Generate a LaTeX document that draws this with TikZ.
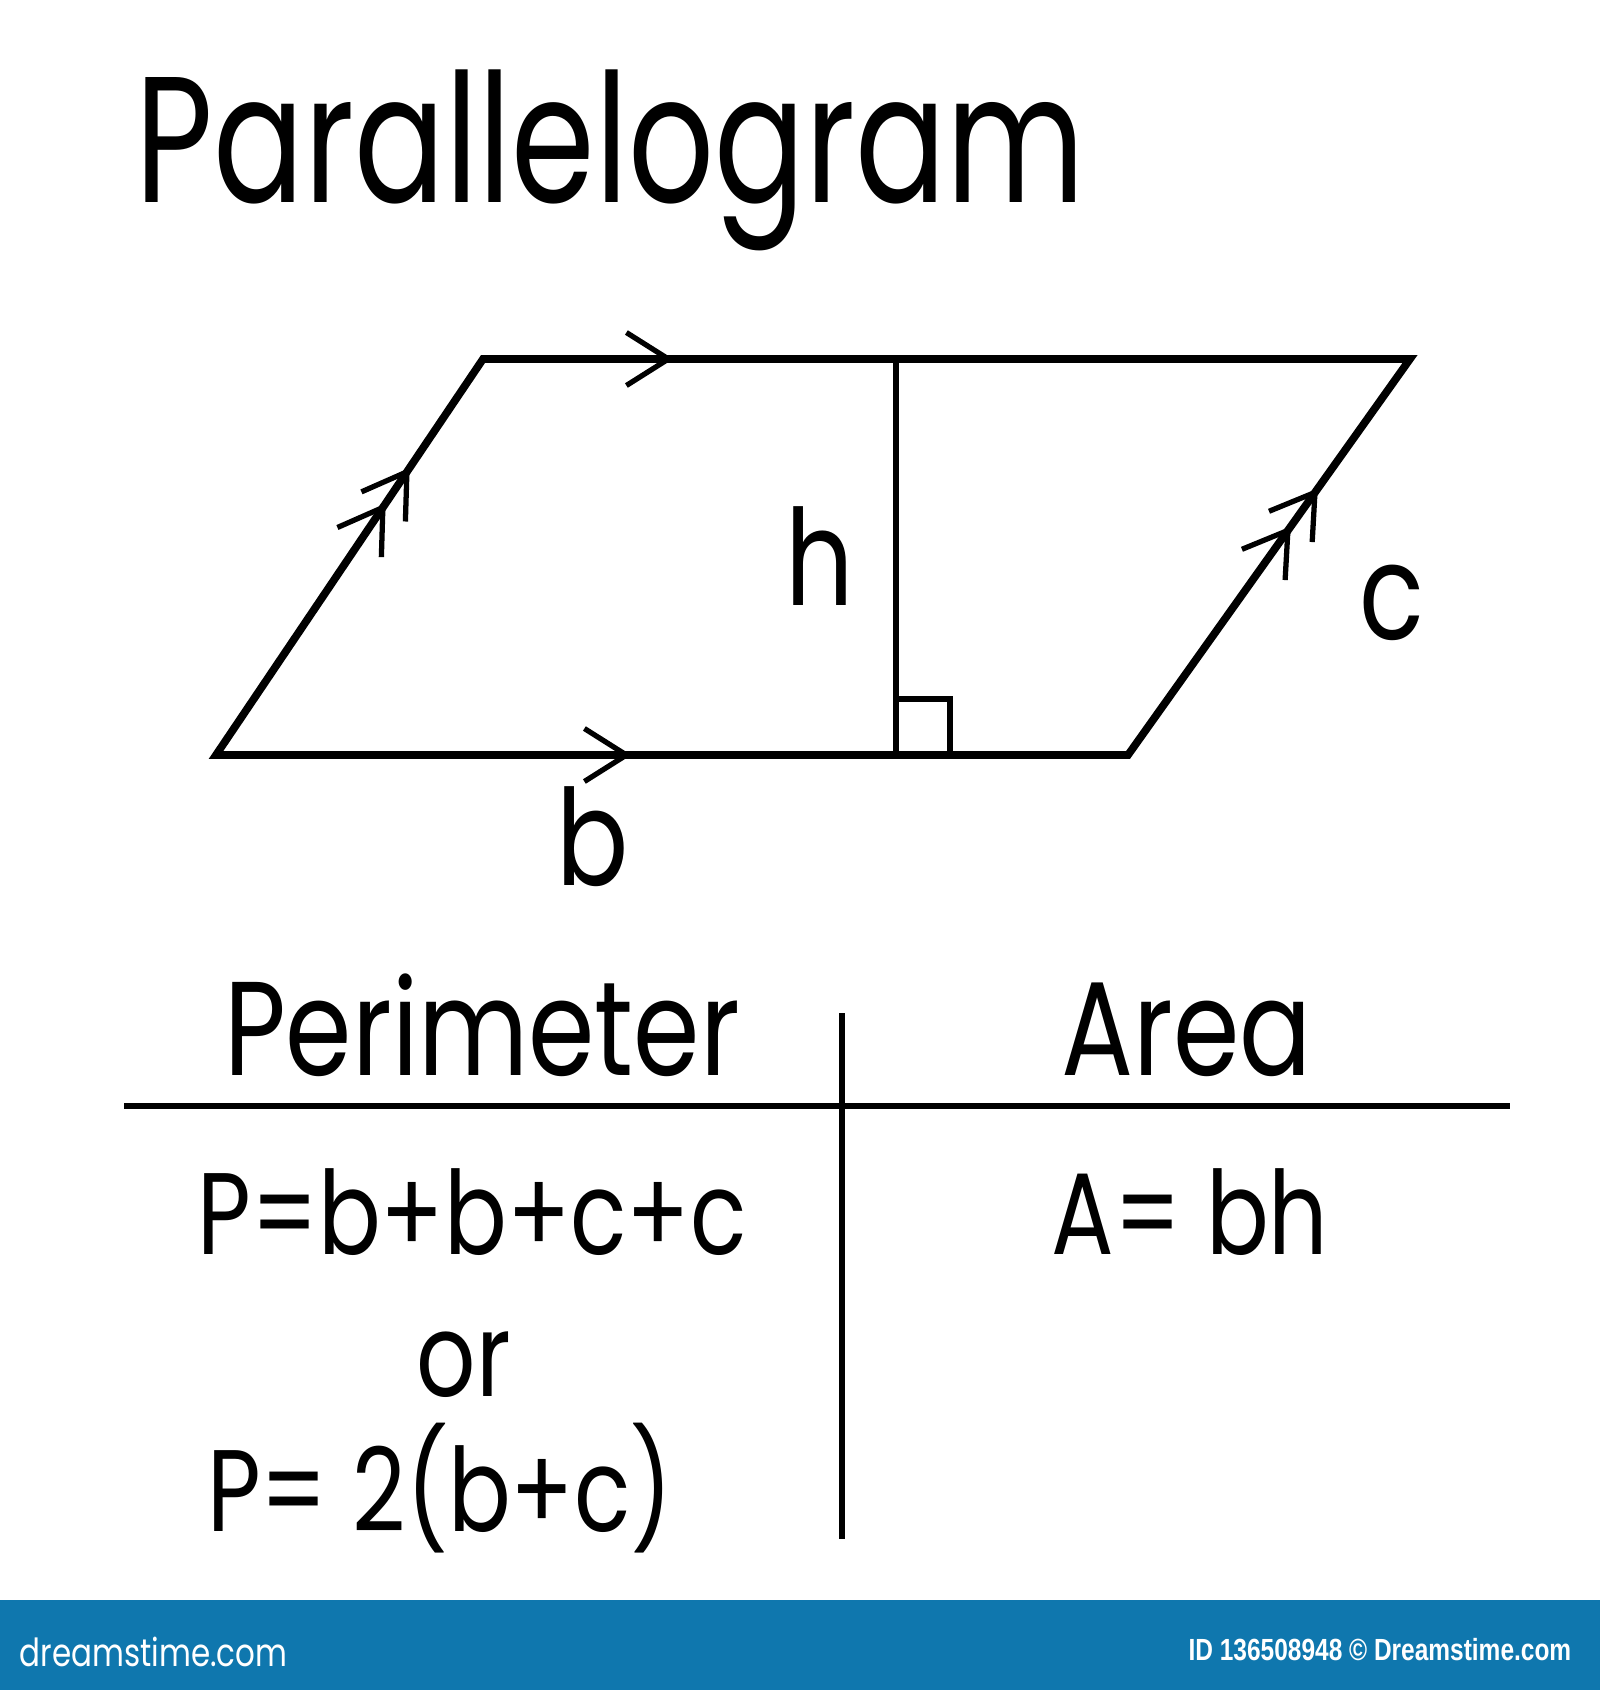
\documentclass[tikz,border=0pt]{standalone}
\usepackage{fontspec}
\setmainfont{Poppins}
\newfontfamily\hand[FakeStretch=0.8]{Poppins}
\newfontfamily\handtitle[FakeStretch=0.75]{Poppins}
\newfontfamily\stock[FakeStretch=0.8]{Liberation Sans}
\usetikzlibrary{decorations.markings}
\definecolor{dtblue}{HTML}{0F77AE}

\begin{document}
\begin{tikzpicture}[x=0.01cm, y=-0.01cm,
    side/.style={line width=2.2pt, line join=miter},
    rule/.style={line width=1.6pt},
    chev/.style={decoration={markings, mark=at position #1 with
        {\draw[line width=1.5pt] (-42,26.5) -- (0,0) -- (-42,-26.5);}},
      postaction=decorate},
    every node/.style={inner sep=0pt, font=\hand},
    title/.style={anchor=base west, font=\handtitle\fontsize{51}{60}\selectfont},
    lbl/.style={font=\hand\fontsize{38}{44}\selectfont},
    head/.style={anchor=base, font=\hand\fontsize{38}{44}\selectfont},
    formula/.style={anchor=base, font=\hand\fontsize{33}{40}\selectfont},
    credit/.style={text=white, font=\stock\bfseries\fontsize{8.7}{10}\selectfont}
  ]
  \useasboundingbox (0,0) rectangle (1600,1690);
  \fill[white] (0,0) rectangle (1600,1690);

  \node[title] (ttl) at (135,202) {Parallelogram};

  % corners of the parallelogram
  \coordinate (A) at (216,755);
  \coordinate (B) at (1128,755);
  \coordinate (C) at (1410,359);
  \coordinate (D) at (483,359);
  % foot and top of the height
  \coordinate (F) at (896,755);
  \coordinate (T) at (896,359);

  \draw[side] (A) -- (B) -- (C) -- (D) -- cycle;
  \draw[rule] (T) -- (F);
  \draw[rule] (896,699) rectangle (950,755);

  % parallel marks
  \path[chev=0.2] (D) -- (C);
  \path[chev=0.45] (A) -- (B);
  \path[chev=0.715] (A) -- (D);
  \path[chev=0.625] (A) -- (D);
  \path[chev=0.663] (B) -- (C);
  \path[chev=0.567] (B) -- (C);

  \node[lbl] (h) at (820,556) {h};
  \node[lbl] (c) at (1392,603) {c};
  \node[lbl] (b) at (593,837) {b};

  % table
  \node[head] (per) at (482,1075) {Perimeter};
  \node[head] (area) at (1187,1075) {Area};
  \coordinate (hl0) at (124,1106);
  \coordinate (hl1) at (1510,1106);
  \coordinate (vl0) at (842,1013);
  \coordinate (vl1) at (842,1539);
  \draw[rule] (hl0) -- (hl1);
  \draw[rule] (vl0) -- (vl1);

  \node[formula] (p1) at (472,1254) {P=b+b+c+c};
  \node[formula] (or) at (464,1396) {or};
  \node[formula] (p2) at (440,1531) {P= 2(b+c)};
  \node[formula] (a1) at (1190,1254) {A= bh};

  % stock bar
  \fill[dtblue] (0,1600) rectangle (1600,1690);
  \node[credit, anchor=west, font=\hand\fontsize{11}{13}\selectfont] (logo) at (19,1652) {dreamstime.com};
  \node[credit, anchor=east] (id) at (1572,1650) {ID 136508948 © Dreamstime.com};
\end{tikzpicture}
\end{document}
